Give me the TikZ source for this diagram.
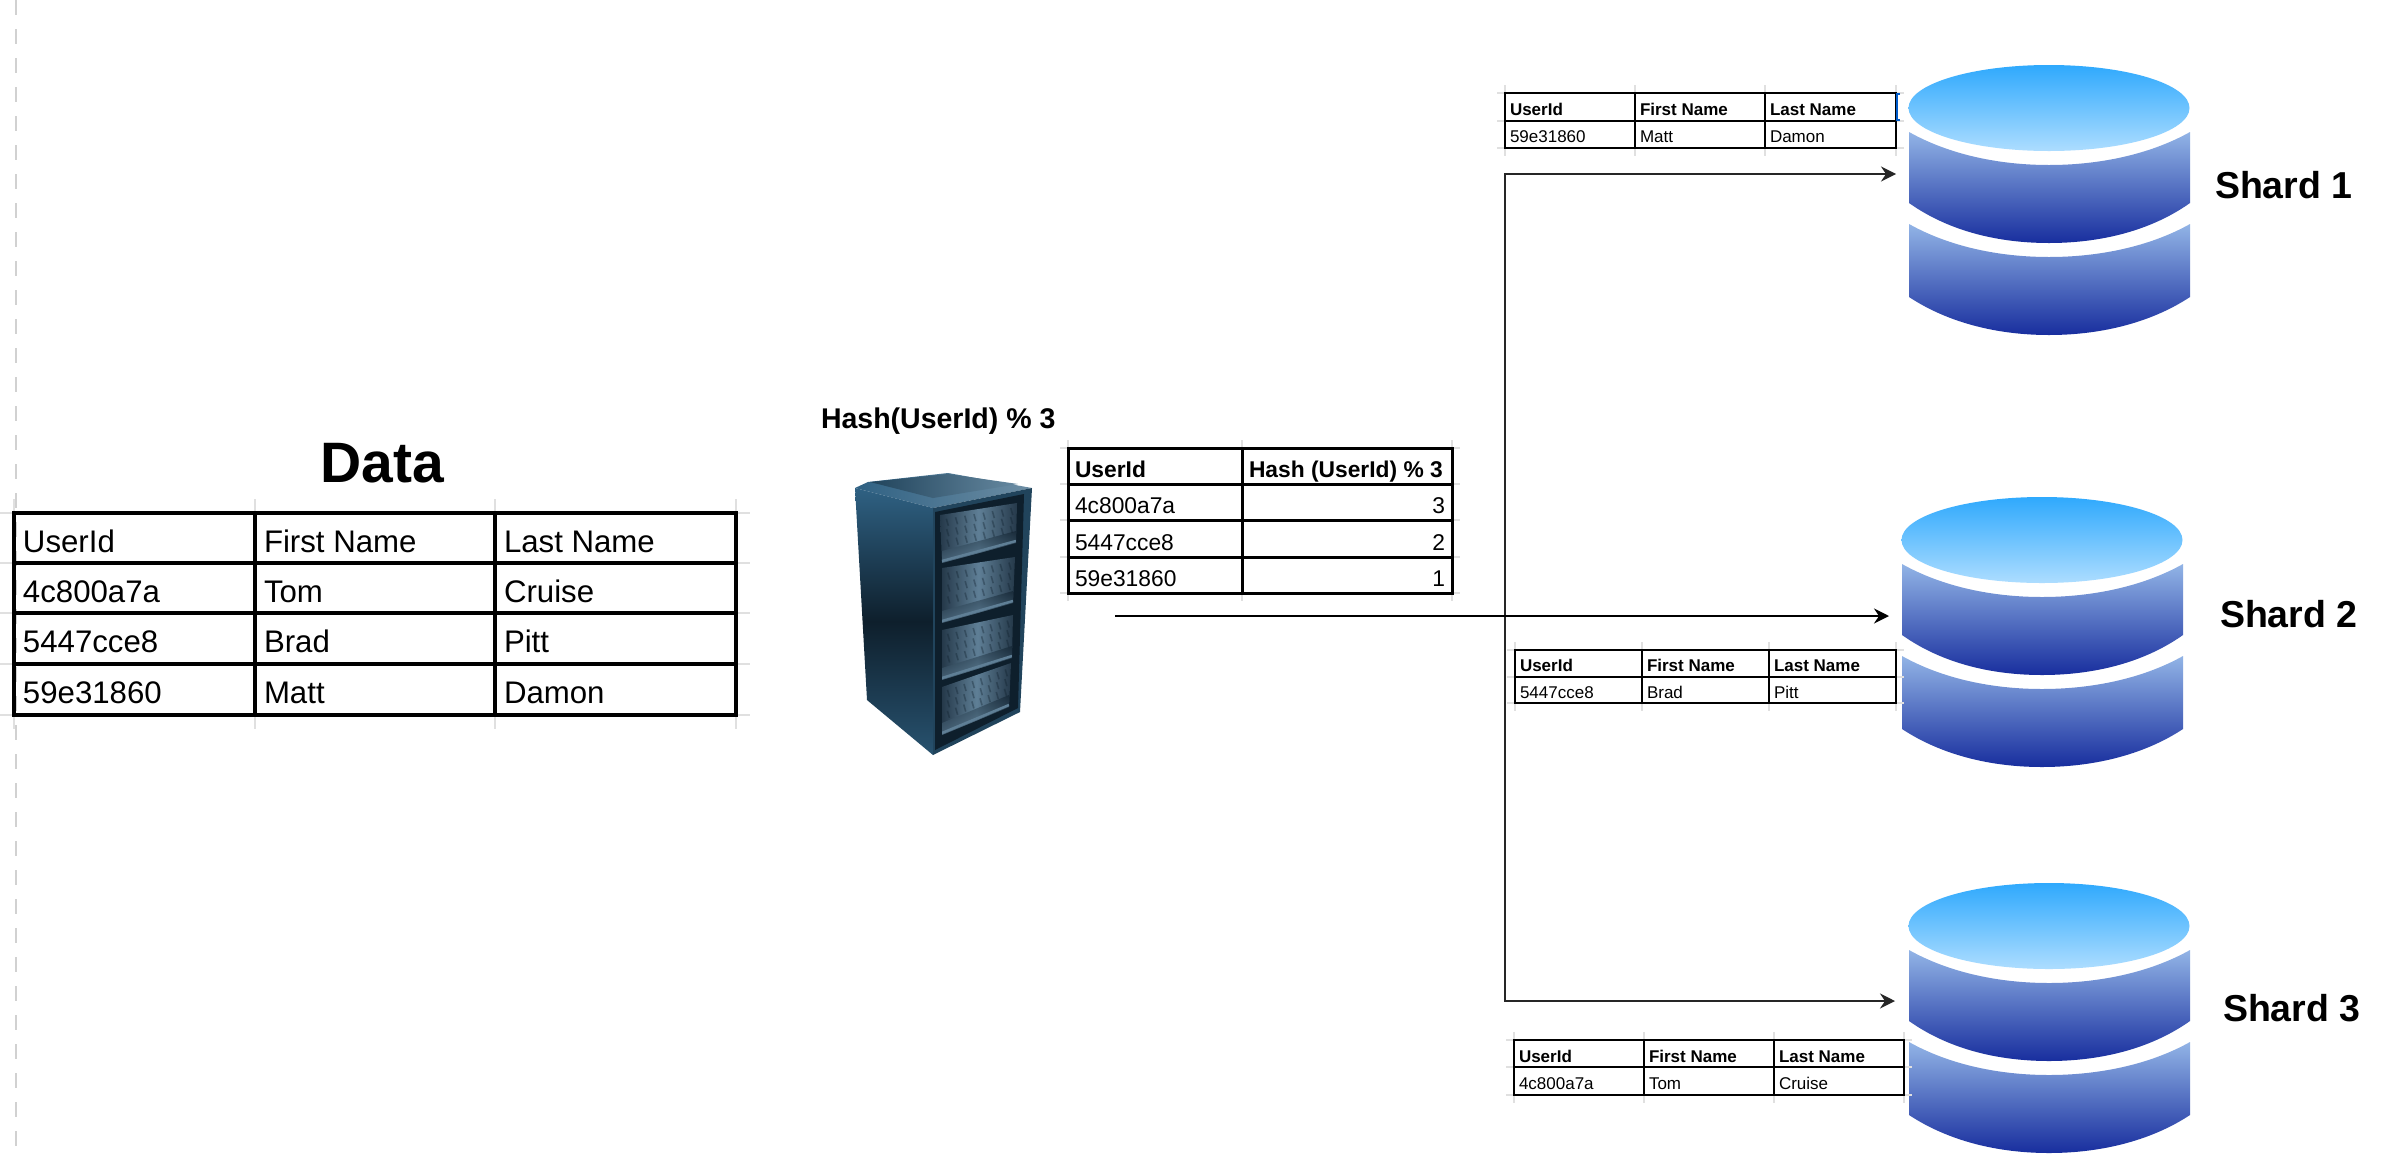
\documentclass[tikz,border=0pt]{standalone}
\usepackage{fontspec}
\setmainfont{Liberation Sans}
\usetikzlibrary{arrows.meta,calc}
\definecolor{lipTop}{HTML}{2FA9FD}
\definecolor{lipBot}{HTML}{ADDDFF}
\definecolor{bodyTop}{HTML}{92B4E6}
\definecolor{bodyBot}{HTML}{182E9E}
\definecolor{rackDark}{HTML}{0E1F2C}
\definecolor{rackMid}{HTML}{2F6183}
\definecolor{rackLight}{HTML}{7D99AC}
\definecolor{slotMid}{HTML}{5F7F96}
\definecolor{slotEdge}{HTML}{25394A}
\tikzset{
  lbl/.style={anchor=base west,inner sep=0pt,outer sep=0pt,text=black},
  dataT/.style={lbl,font=\fontsize{31.2}{37}\selectfont},
  hashT/.style={lbl,font=\fontsize{22.8}{27}\selectfont},
  hashH/.style={hashT,font=\fontsize{22.8}{27}\selectfont\bfseries},
  hashN/.style={hashT,anchor=base east},
  smallT/.style={lbl,font=\fontsize{17}{20}\selectfont},
  smallH/.style={smallT,font=\fontsize{17}{20}\selectfont\bfseries},
  shardT/.style={lbl,font=\fontsize{37.5}{44}\selectfont\bfseries},
  conn/.style={line width=2pt,draw=black!85},
  tip/.style={-{Stealth[length=15pt,width=15pt,inset=5pt]}},
  faint/.style={draw=black!12,line width=2.5pt},
}
% grid: xs, ys, xmin, xmax, ymin, ymax, extension, line width
\newcommand\gridtab[8]{%
  \foreach \gx in {#1} {\draw[faint] (\gx,#5-#7) -- (\gx,#6+#7);}
  \foreach \gy in {#2} {\draw[faint] (#3-#7,\gy) -- (#4+#7,\gy);}
  \foreach \gx in {#1} {\draw[black,line width=#8,line cap=rect] (\gx,#5) -- (\gx,#6);}
  \foreach \gy in {#2} {\draw[black,line width=#8,line cap=rect] (#3,\gy) -- (#4,\gy);}
}
% shard cylinder offset dx, dy
\newcommand\cyl[3]{%
  \begin{scope}[shift={(#2,#3)}]
    \path[top color=lipTop,bottom color=lipBot] (2049,108) ellipse [x radius=140.5,y radius=43];
    \path[top color=bodyTop,bottom color=bodyBot]
      (1909,132) .. controls (1950,155) and (2000,165) .. (2049,165)
      .. controls (2098,165) and (2149,155) .. (2190,132)
      -- (2190,203) .. controls (2149,232) and (2098,243) .. (2049,243)
      .. controls (2000,243) and (1950,232) .. (1909,203) -- cycle;
    \path[top color=bodyTop,bottom color=bodyBot]
      (1909,224) .. controls (1950,247) and (2000,257) .. (2049,257)
      .. controls (2098,257) and (2149,247) .. (2190,224)
      -- (2190,297) .. controls (2149,324) and (2098,335) .. (2049,335)
      .. controls (2000,335) and (1950,324) .. (1909,297) -- cycle;
    \coordinate (#1) at (2049,200);
  \end{scope}
}
% rack slot
\newcommand\rackslot[8]{%
  \begin{scope}
    \clip (#1,#2) -- (#3,#4) -- (#5,#6) -- (#7,#8) -- cycle;
    \path[left color=slotEdge,right color=slotEdge,middle color=slotMid]
      (#1,#2) -- (#3,#4) -- (#5,#6) -- (#7,#8) -- cycle;
    \foreach \tt in {0.08,0.2,...,0.95} \foreach \ss in {0.1,0.32,0.54} {
      \draw[line width=1.6pt,draw=rackDark,opacity=.35]
        ($($(#1,#2)!\tt!(#3,#4)$)!\ss!($(#7,#8)!\tt!(#5,#6)$)$) -- ++(2,7);
    }
    \path[top color=rackDark,bottom color=slotMid,opacity=.55]
      ($(#7,#8)+(0,-12)$) -- ($(#5,#6)+(0,-12)$) -- (#5,#6) -- (#7,#8) -- cycle;
    \draw[line width=2.5pt,draw=slotMid] ($(#7,#8)+(0,-2)$) -- ($(#5,#6)+(0,-2)$);
  \end{scope}
}
\begin{document}
\begin{tikzpicture}[x=1pt,y=-1pt]
\useasboundingbox[fill=white] (0,0) rectangle (2388,1160);
% page guide
\draw[draw=black!18,line width=2pt,dash pattern=on 15pt off 14pt] (16,0) -- (16,1160);

% connector coordinates
\coordinate (hashout) at (1115,616);
\coordinate (branch) at (1505,616);
\coordinate (s1in) at (1896,174);
\coordinate (s2in) at (1889,616);
\coordinate (s3in) at (1895,1001);

% Data table
\node[lbl,font=\fontsize{57}{68}\selectfont\bfseries,anchor=base] (datatitle) at (382,482) {Data};
\gridtab{14,255,495,736}{513,563,613,664,715}{14}{736}{513}{715}{14}{3.5pt}
\node[dataT] (d00) at (23,552) {UserId};
\node[dataT] (d01) at (264,552) {First Name};
\node[dataT] (d02) at (504,552) {Last Name};
\node[dataT] (d10) at (23,602) {4c800a7a};
\node[dataT] (d11) at (264,602) {Tom};
\node[dataT] (d12) at (504,602) {Cruise};
\node[dataT] (d20) at (23,652) {5447cce8};
\node[dataT] (d21) at (264,652) {Brad};
\node[dataT] (d22) at (504,652) {Pitt};
\node[dataT] (d30) at (23,703) {59e31860};
\node[dataT] (d31) at (264,703) {Matt};
\node[dataT] (d32) at (504,703) {Damon};

% Hash title
\node[lbl,font=\fontsize{28.5}{34}\selectfont\bfseries] (hashtitle) at (821,428) {Hash(UserId) \% 3};

% Rack
\path[left color=rackMid,right color=rackLight!80!rackMid] (855,488) -- (868,482) -- (948,473) -- (1032,488) -- (933,508) -- cycle;
\path[left color=rackMid!70!black,right color=rackLight!70!rackMid] (870,482) -- (948,474) -- (1018,484) -- (933,498) -- cycle;
\path[top color=rackMid,bottom color=rackMid!85!black,middle color=rackDark] (855,488) -- (933,508) -- (933,755) -- (867,700) -- cycle;
\fill[rackMid!70!black] (933,508) -- (1032,488) -- (1020,712) -- (933,755) -- cycle;
\fill[rackDark] (935,512) -- (1024,494) -- (1018,708) -- (935,750) -- cycle;
\rackslot{940}{515}{1017}{503}{1016}{543}{942}{563}
\rackslot{942}{568}{1015}{557}{1013}{603}{942}{623}
\rackslot{942}{630}{1013}{615}{1012}{658}{942}{680}
\rackslot{942}{687}{1011}{663}{1009}{707}{942}{735}

% Hash table
\gridtab{1068,1242,1452}{448,484,520,557,593}{1068}{1452}{448}{593}{8}{3pt}
\node[hashH] (h00) at (1075,477) {UserId};
\node[hashH] (h01) at (1249,477) {Hash (UserId) \% 3};
\node[hashT] (h10) at (1075,513) {4c800a7a};
\node[hashN] (h11) at (1445,513) {3};
\node[hashT] (h20) at (1075,550) {5447cce8};
\node[hashN] (h21) at (1445,550) {2};
\node[hashT] (h30) at (1075,586) {59e31860};
\node[hashN] (h31) at (1445,586) {1};

% Shards
\cyl{shardA}{0}{0}
\cyl{shardB}{-7}{432}
\cyl{shardC}{0}{818}
\node[shardT] (s1) at (2215,198) {Shard 1};
\node[shardT] (s2) at (2220,627) {Shard 2};
\node[shardT] (s3) at (2223,1021) {Shard 3};

% Shard 1 table
\gridtab{1505,1635,1765,1896}{93,121,148}{1505}{1896}{93}{148}{8}{2.4pt}
\node[smallH] (a00) at (1510,115) {UserId};
\node[smallH] (a01) at (1640,115) {First Name};
\node[smallH] (a02) at (1770,115) {Last Name};
\node[smallT] (a10) at (1510,142) {59e31860};
\node[smallT] (a11) at (1640,142) {Matt};
\node[smallT] (a12) at (1770,142) {Damon};
\draw[draw=blue!55!cyan!80!black,line width=2pt] (1900,94) -- (1897,94) -- (1897,120) -- (1900,120);

% Shard 2 table
\gridtab{1515,1642,1769,1896}{650,677,703}{1515}{1896}{650}{703}{8}{2.2pt}
\node[smallH] (b00) at (1520,671) {UserId};
\node[smallH] (b01) at (1647,671) {First Name};
\node[smallH] (b02) at (1774,671) {Last Name};
\node[smallT] (b10) at (1520,698) {5447cce8};
\node[smallT] (b11) at (1647,698) {Brad};
\node[smallT] (b12) at (1774,698) {Pitt};

% Shard 3 table
\gridtab{1514,1644,1774,1904}{1040,1067,1095}{1514}{1904}{1040}{1095}{8}{2.2pt}
\node[smallH] (c00) at (1519,1062) {UserId};
\node[smallH] (c01) at (1649,1062) {First Name};
\node[smallH] (c02) at (1779,1062) {Last Name};
\node[smallT] (c10) at (1519,1089) {4c800a7a};
\node[smallT] (c11) at (1649,1089) {Tom};
\node[smallT] (c12) at (1779,1089) {Cruise};

% Connectors
\draw[conn,tip] (branch) |- (s1in);
\draw[conn,tip] (branch) |- (s3in);
\draw[conn,tip,draw=black] (hashout) -- (s2in);
\end{tikzpicture}
\end{document}
